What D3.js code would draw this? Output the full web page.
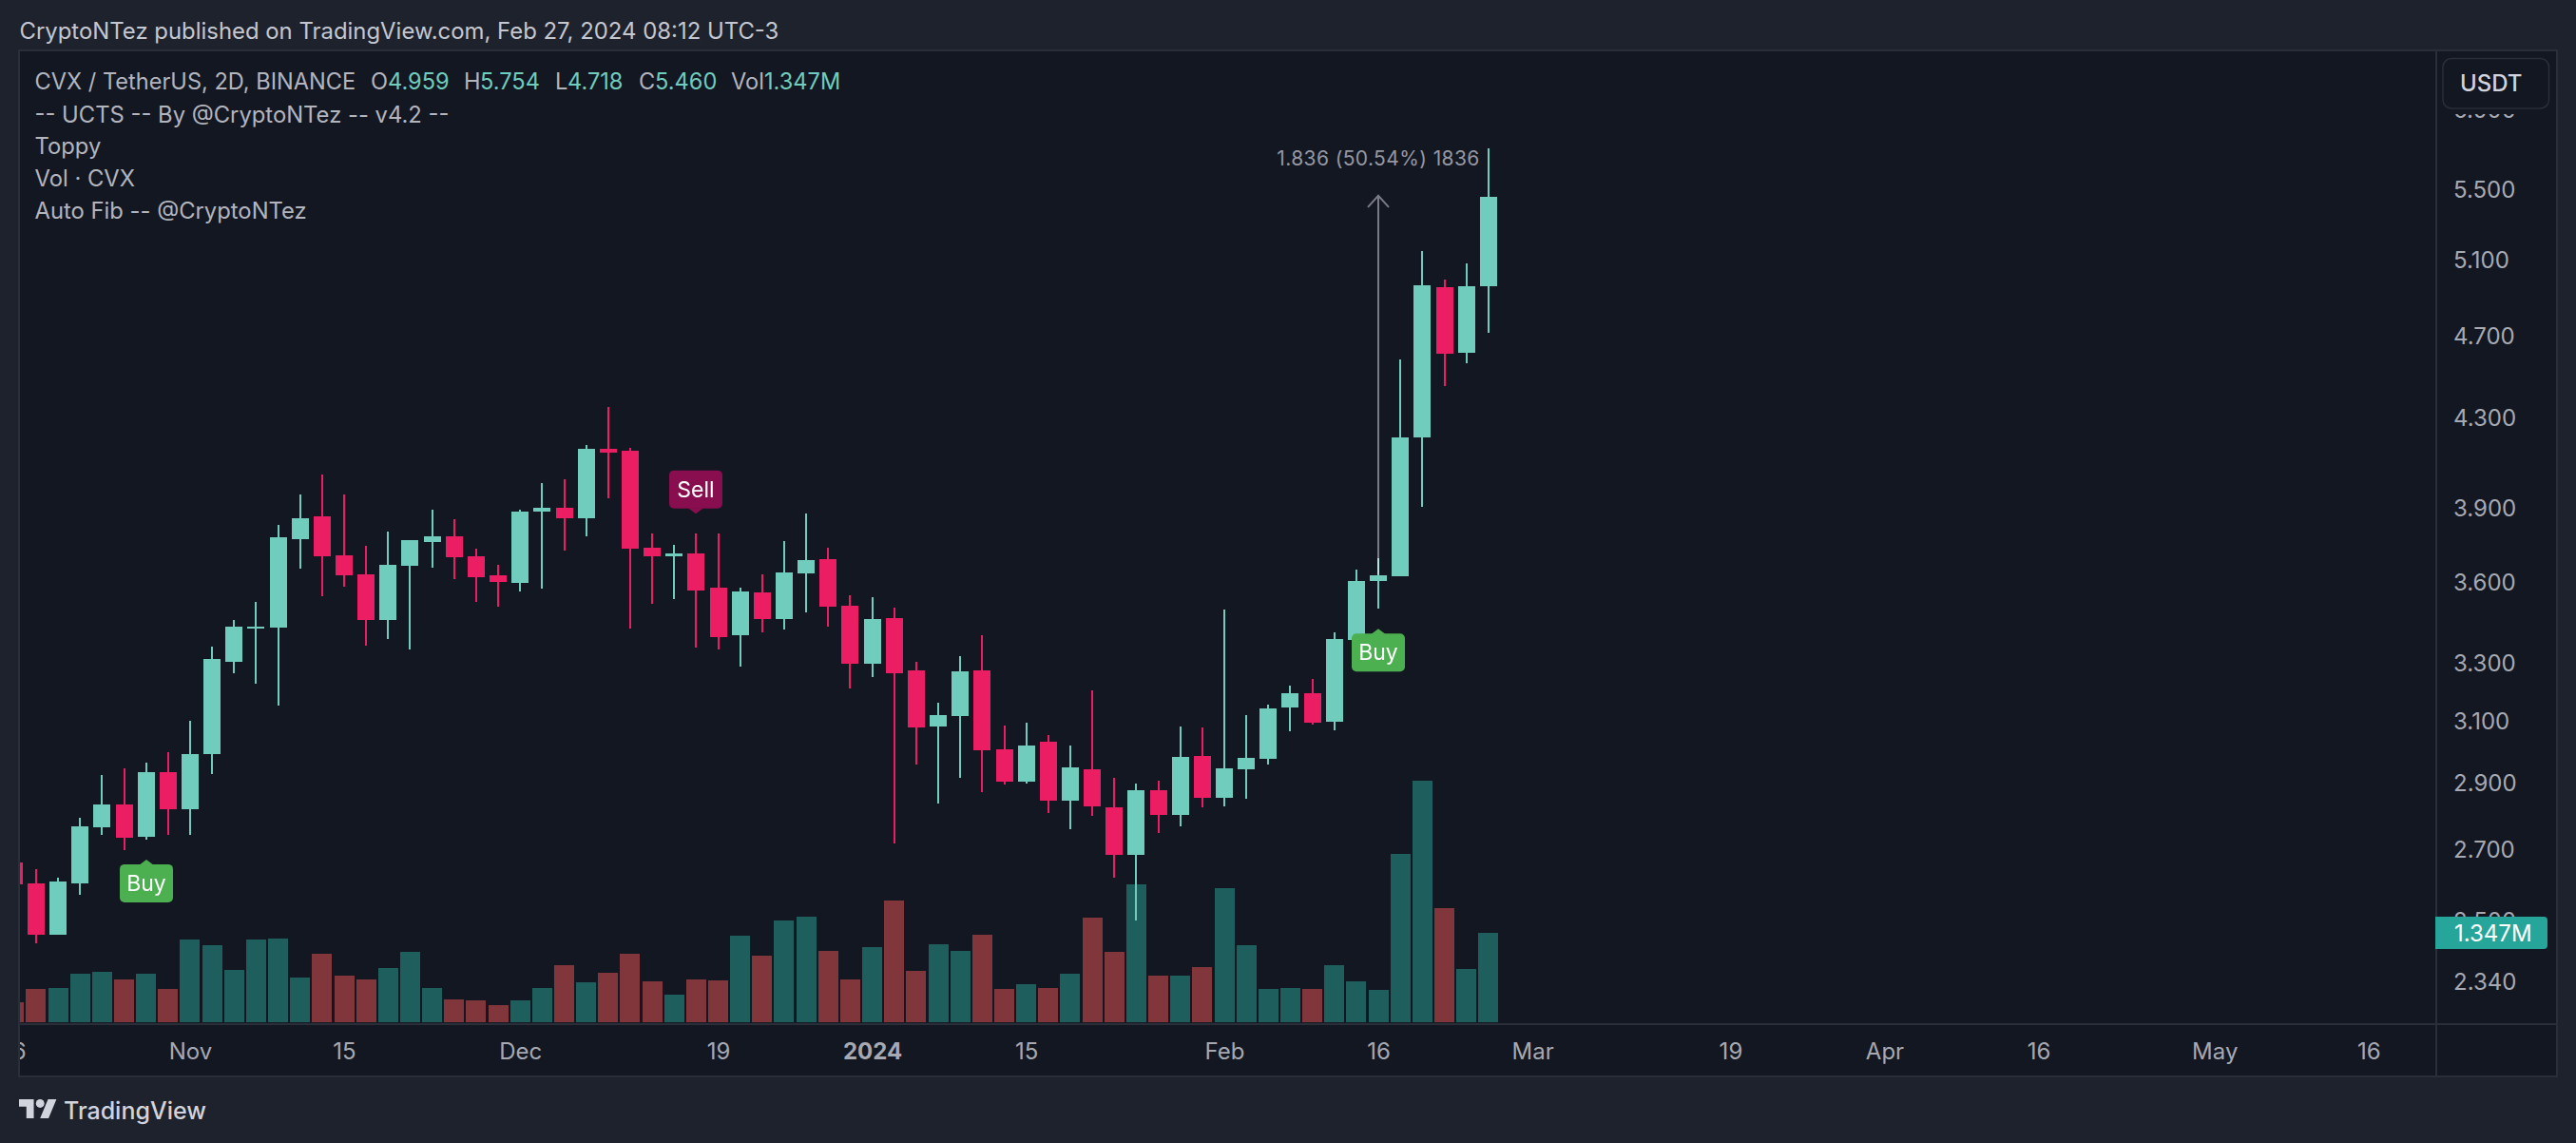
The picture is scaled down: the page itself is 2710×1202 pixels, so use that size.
<!DOCTYPE html>
<html><head><meta charset="utf-8">
<style>html,body{margin:0;background:#1e222d}svg{display:block}text{font-family:Inter,sans-serif}</style>
<script src="https://cdn.jsdelivr.net/npm/d3@7"></script></head><body>
<script>
const opens  = [2.663,2.604,2.463,2.604,2.766,2.835,2.738,2.935,2.820,2.994,3.306,3.428,3.432,3.774,3.868,3.709,3.634,3.459,3.669,3.764,3.786,3.705,3.630,3.602,3.889,3.905,3.862,4.161,4.152,3.741,3.705,3.717,3.583,3.403,3.564,3.463,3.638,3.694,3.514,3.299,3.466,3.277,3.083,3.119,3.277,3.008,2.906,3.034,2.847,2.945,2.826,2.685,2.879,2.804,2.987,2.856,2.945,2.978,3.148,3.197,3.099,3.386,3.608,3.627,4.213,4.955,4.616,4.959];
const highs  = [2.663,2.644,2.619,2.795,2.927,2.947,2.966,3.000,3.103,3.362,3.459,3.527,3.834,3.961,4.047,3.961,3.748,3.806,3.772,3.897,3.858,3.737,3.672,3.897,4.011,4.028,4.179,4.353,4.165,3.798,3.752,3.798,3.798,3.583,3.634,3.768,3.881,3.741,3.553,3.545,3.507,3.306,3.164,3.327,3.403,3.087,3.096,3.056,3.021,3.206,2.918,2.899,2.909,3.083,3.081,3.499,3.122,3.158,3.222,3.246,3.413,3.653,3.697,4.583,5.152,4.996,5.084,5.754];
const lows   = [2.600,2.441,2.463,2.571,2.743,2.699,2.730,2.743,2.743,2.930,3.267,3.229,3.154,3.657,3.549,3.587,3.366,3.389,3.352,3.661,3.615,3.527,3.510,3.568,3.579,3.729,3.786,3.946,3.428,3.521,3.538,3.359,3.352,3.291,3.414,3.425,3.488,3.436,3.214,3.253,2.718,2.960,2.838,2.918,2.872,2.897,2.900,2.808,2.760,2.800,2.619,2.502,2.749,2.769,2.826,2.829,2.853,2.960,3.068,3.090,3.071,3.386,3.502,3.627,3.909,4.453,4.564,4.718];
const closes = [2.600,2.463,2.609,2.769,2.835,2.736,2.935,2.820,2.994,3.317,3.436,3.436,3.782,3.862,3.705,3.630,3.459,3.672,3.772,3.786,3.701,3.623,3.606,3.889,3.905,3.862,4.161,4.144,3.737,3.705,3.719,3.572,3.396,3.568,3.463,3.642,3.690,3.510,3.299,3.463,3.267,3.080,3.123,3.274,3.005,2.906,3.021,2.847,2.950,2.829,2.685,2.879,2.804,2.984,2.856,2.948,2.982,3.145,3.197,3.096,3.390,3.608,3.630,4.213,4.965,4.611,4.960,5.460];
const volumes= [0.300,0.505,0.519,0.732,0.761,0.644,0.732,0.505,1.244,1.163,0.790,1.244,1.258,0.673,1.031,0.702,0.644,0.819,1.061,0.519,0.344,0.329,0.256,0.329,0.519,0.863,0.600,0.746,1.031,0.615,0.417,0.644,0.629,1.302,1.002,1.529,1.587,1.075,0.644,1.134,1.836,0.775,1.178,1.075,1.317,0.505,0.578,0.519,0.732,1.572,1.059,2.078,0.701,0.701,0.829,2.020,1.162,0.502,0.515,0.502,0.861,0.617,0.489,2.532,3.634,1.719,0.803,1.347];
const priceTicks = [6,5.5,5.1,4.7,4.3,3.9,3.6,3.3,3.1,2.9,2.7,2.5,2.34];
const timeBars   = [0,8,15,23,32,39,46,55,62,69,78,85,92,100,107];
const timeLabels = ["16","Nov","15","Dec","19","2024","15","Feb","16","Mar","19","Apr","16","May","16"];
const signalBars = [6,31,62];
const signalText = ["Buy","Sell","Buy"];
const measureFrom = 3.633, measureTo = 5.469;
const measureText = "1.836 (50.54%) 1836";
const headerText = "CryptoNTez published on TradingView.com, Feb 27, 2024 08:12 UTC-3";
const legendLines = ["-- UCTS -- By @CryptoNTez -- v4.2 --","Toppy","Vol · CVX","Auto Fib -- @CryptoNTez"];
const ohlcKeys = ["O","H","L","C","Vol"];
const ohlcVals = ["4.959","5.754","4.718","5.460","1.347M"];

const W=2710,H=1202, L=20,T=53,R=2563,RB=2690,AX=1077,BT=1132;
const UP="#70ccbd",DN="#ec1e63",VUP="#1e5f5e",VDN="#80363a",TXT="#b2b5be",TICK="#a6a9b2",LINE="#2a2e39",PANEL="#131722";
const svg=d3.select("body").append("svg").attr("width",W).attr("height",H);
svg.append("rect").attr("width",W).attr("height",H).attr("fill","#1e222d");
svg.append("rect").attr("x",L).attr("y",T).attr("width",RB-L).attr("height",BT-T).attr("fill",PANEL);
const defs=svg.append("defs");
defs.append("clipPath").attr("id","plot").append("rect").attr("x",L).attr("y",T).attr("width",R-L).attr("height",AX-T);
defs.append("clipPath").attr("id","time").append("rect").attr("x",L).attr("y",AX).attr("width",R-L).attr("height",BT-AX);

const x=d3.scaleLinear().domain([0,67]).range([14.75,1565.8]);
const y=d3.scaleLog().domain([5.5,2.34]).range([200.3,1033.1]);
const v=d3.scaleLinear().domain([0,1.347]).range([1075.2,981]);
const BW=18,WW=2,VW=21;
const col=i=>closes[i]>=opens[i];

const plot=svg.append("g").attr("clip-path","url(#plot)");
plot.append("g").selectAll("rect").data(volumes).join("rect")
 .attr("x",(d,i)=>Math.round(x(i)-VW/2)).attr("width",VW)
 .attr("y",d=>v(d)).attr("height",d=>v(0)-v(d))
 .attr("fill",(d,i)=>col(i)?VUP:VDN).attr("shape-rendering","crispEdges");
plot.append("g").selectAll("rect").data(highs).join("rect")
 .attr("x",(d,i)=>Math.round(x(i)-WW/2)).attr("width",WW)
 .attr("y",d=>y(d)).attr("height",(d,i)=>y(lows[i])-y(d))
 .attr("fill",(d,i)=>col(i)?UP:DN).attr("shape-rendering","crispEdges");
plot.append("g").selectAll("rect").data(opens).join("rect")
 .attr("x",(d,i)=>Math.round(x(i)-BW/2)).attr("width",BW)
 .attr("y",(d,i)=>y(Math.max(d,closes[i]))).attr("height",(d,i)=>Math.max(2,Math.abs(y(d)-y(closes[i]))))
 .attr("fill",(d,i)=>col(i)?UP:DN).attr("shape-rendering","crispEdges");

// measure arrow
const ax=Math.round(x(62));
const arrow=plot.append("g").attr("fill","none").attr("stroke","#787b86").attr("stroke-width",2).style("mix-blend-mode","screen");
arrow.append("path").attr("d",d3.line()([[ax,y(measureFrom)],[ax,y(measureTo)]]));
arrow.append("path").attr("d",d3.line()([[ax-11,y(measureTo)+12],[ax,y(measureTo)],[ax+11,y(measureTo)+12]]));
svg.append("text").attr("x",ax).attr("y",166).attr("dy",".36em").attr("text-anchor","middle")
 .attr("font-size",21).attr("letter-spacing",.4).attr("fill","#9598a1").text(measureText);

// signals
signalBars.forEach((b,k)=>{
 const sell=signalText[k]=="Sell", cx=Math.round(x(b)), c=sell?"#880e4f":"#4caf50";
 const tip=sell?y(highs[b])-21:y(lows[b])+21, dir=sell?-1:1;
 const g=plot.append("g");
 g.append("path").attr("d",d3.line()([[cx-8,tip+dir*6],[cx,tip],[cx+8,tip+dir*6]])).attr("fill",c);
 const top=sell?tip-45.5:tip+5;
 g.append("rect").attr("x",cx-28).attr("width",56).attr("y",top).attr("height",40).attr("rx",5).attr("fill",c);
 g.append("text").attr("x",cx).attr("y",top+20).attr("dy",".36em").attr("text-anchor","middle").attr("font-size",23).attr("fill","#fff").text(signalText[k]);
});

// price axis
const ya=svg.append("g").attr("transform",`translate(${R},0)`).call(d3.axisRight(y).tickValues(priceTicks).tickSize(0).tickFormat(d3.format(".3f")));
ya.select(".domain").remove();
ya.selectAll("text").attr("x",18).attr("font-family","Inter").attr("font-size",24).attr("fill",TICK).attr("text-anchor","start");

// time axis
const xa=svg.append("g").attr("clip-path","url(#time)").append("g").attr("transform",`translate(0,${AX})`)
 .call(d3.axisBottom(x).tickValues(timeBars).tickSize(0).tickFormat((d,i)=>timeLabels[i]));
xa.select(".domain").remove();
xa.selectAll("text").attr("y",28.5).attr("dy",".36em").attr("font-family","Inter").attr("font-size",24).attr("fill",TICK)
 .attr("font-weight",(d,i)=>timeLabels[i]=="2024"?700:400);

// frame
svg.append("rect").attr("x",L).attr("y",T).attr("width",RB-L).attr("height",BT-T).attr("fill","none").attr("stroke",LINE).attr("stroke-width",2);
svg.append("path").attr("d",d3.line()([[R,T],[R,BT]])).attr("stroke",LINE).attr("stroke-width",2);
svg.append("path").attr("d",d3.line()([[L,AX],[RB,AX]])).attr("stroke",LINE).attr("stroke-width",2);

// USDT button
svg.append("rect").attr("x",R+1).attr("y",T+1).attr("width",RB-R-2).attr("height",66).attr("fill",PANEL);
svg.append("rect").attr("x",2570).attr("y",61.5).attr("width",111.5).attr("height",52.5).attr("rx",9).attr("fill",PANEL).attr("stroke",LINE).attr("stroke-width",1.5);
svg.append("text").attr("x",2620.7).attr("y",87.5).attr("dy",".36em").attr("text-anchor","middle").attr("font-size",24).attr("font-weight",500).attr("fill","#d1d4dc").text("USDT");

// last volume label
const ly=v(volumes[volumes.length-1]);
svg.append("path").attr("d",`M${R-1},${ly-17}H2676a4,4 0 0 1 4,4V${ly+13}a4,4 0 0 1 -4,4H${R-1}Z`).attr("fill","#26a69a");
svg.append("text").attr("x",2582).attr("y",ly).attr("dy",".36em").attr("font-size",24).attr("fill","#fff").text("1.347M");

// header, legend, footer
svg.append("text").attr("x",20.5).attr("y",32).attr("dy",".36em").attr("font-size",23.9).attr("fill","#c4c7d0").text(headerText);
svg.append("text").attr("x",36.5).attr("y",86).attr("dy",".36em").attr("font-size",23.6).attr("fill",TXT).text("CVX / TetherUS, 2D, BINANCE");
const kx=[390,488,584,672,769], vx=[408,505,597,689,804];
ohlcKeys.forEach((k,i)=>{
 svg.append("text").attr("x",kx[i]).attr("y",86).attr("dy",".36em").attr("font-size",23.6).attr("fill",TXT).text(k);
 svg.append("text").attr("x",vx[i]).attr("y",86).attr("dy",".36em").attr("font-size",23.6).attr("fill",UP).text(ohlcVals[i]);
});
legendLines.forEach((t,i)=>svg.append("text").attr("x",36.5).attr("y",120+i*33.7).attr("dy",".36em").attr("font-size",23.8).attr("fill",TXT).text(t));
const logo=svg.append("g").attr("transform","translate(20,1151.6) scale(1.11)").attr("fill","#d1d4dc");
logo.append("path").attr("d","M14 22H7V11H0V4h14v18zM28 22h-8l7.5-18h8L28 22z");
logo.append("circle").attr("cx",20).attr("cy",8).attr("r",4);
svg.append("text").attr("x",67).attr("y",1168).attr("dy",".36em").attr("font-size",25).attr("font-weight",500).attr("fill","#d1d4dc").text("TradingView");
</script></body></html>
